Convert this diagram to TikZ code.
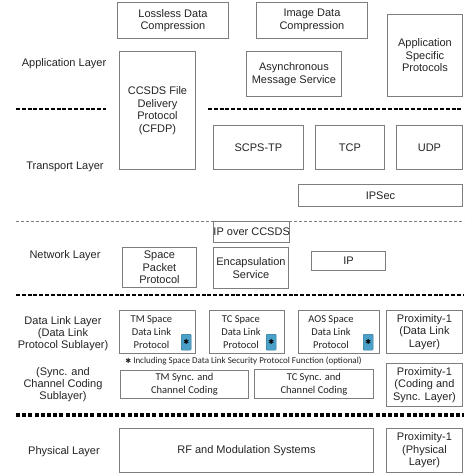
\documentclass[tikz,border=0pt]{standalone}
\usepackage{fontspec}
\setmainfont{Liberation Sans}
\newfontfamily\calfont{Carlito}
\newfontfamily\symfont{DejaVu Sans}
\definecolor{boxgray}{RGB}{125,125,125}
\definecolor{starblue}{RGB}{74,160,200}
\definecolor{txtgray}{RGB}{35,35,35}
\newcommand{\secstar}{{\symfont ✱}}

\begin{document}
\begin{tikzpicture}[x=1pt,y=-1pt,
  box/.style={draw=boxgray, line width=0.9pt, anchor=north west, align=center, inner sep=0pt, text=txtgray, font=\fontsize{11}{12.5}\selectfont},
  dlbox/.style={draw=boxgray, line width=0.9pt, anchor=north west, inner sep=0pt},
  dltext/.style={align=center, text=txtgray, font=\calfont\fontsize{10.5}{13}\selectfont},
  starbox/.style={draw=starblue!70!black, fill=starblue, rounded corners=1pt, anchor=north west, minimum width=10, minimum height=16, inner sep=0pt, font=\fontsize{7}{7}\selectfont},
  layer/.style={align=center, text=txtgray, font=\fontsize{11}{12}\selectfont},
  sepline/.style={line width=1.6pt, dash pattern=on 4pt off 1.8pt},
  thinsep/.style={boxgray, line width=0.8pt, dash pattern=on 3pt off 2pt},
  heavysep/.style={line width=3.6pt, dash pattern=on 4pt off 2.2pt}]

\useasboundingbox (0,0) rectangle (474,474);

% layer names
\node[layer] (applayer) at (64,64) {Application Layer};
\node[layer] (translayer) at (65,167) {Transport Layer};
\node[layer] (netlayer) at (65,256) {Network Layer};
\node[layer] (dllayer) at (63,334) {Data Link Layer\\(Data Link\\Protocol Sublayer)};
\node[layer] (synclayer) at (63,385) {(Sync. and\\Channel Coding\\Sublayer)};
\node[layer] (phylayer) at (64,452) {Physical Layer};

% application
\node[box, minimum width=111, minimum height=36] (lossless) at (117,2) {Lossless Data\\Compression};
\node[box, minimum width=111, minimum height=36] (imagedc) at (256,2) {Image Data\\Compression};
\node[box, minimum width=76, minimum height=118] (cfdp) at (119,51) {CCSDS File\\Delivery\\Protocol\\(CFDP)};
\node[box, minimum width=95, minimum height=45] (ams) at (246,51) {Asynchronous\\Message Service};
\node[box, minimum width=75, minimum height=82] (asp) at (387,14) {Application\\Specific\\Protocols};
\draw[sepline] (16,109) -- (106,109);
\draw[sepline] (208,109) -- (462,109);

% transport
\node[box, minimum width=90, minimum height=44] (scps) at (213,125) {SCPS-TP};
\node[box, minimum width=69, minimum height=44] (tcp) at (315,125) {TCP};
\node[box, minimum width=66, minimum height=44] (udp) at (396,125) {UDP};
\node[box, minimum width=164, minimum height=22] (ipsec) at (298,184) {IPSec};
\draw[thinsep] (16,221) -- (213,221);
\draw[thinsep] (289,221) -- (464,221);

% network
\node[box, minimum width=75, minimum height=21] (ipccsds) at (213,221) {IP over CCSDS};
\node[box, minimum width=75, minimum height=41] (encap) at (213,247) {Encapsulation\\Service};
\node[box, minimum width=74, minimum height=40] (spp) at (122,247) {Space\\Packet\\Protocol};
\node[box, minimum width=74, minimum height=19] (ip) at (311,251) {IP};
\draw[sepline] (16,295) -- (464,295);

% data link
\node[dlbox, minimum width=76, minimum height=43] (tmsdl) at (119,310) {};
\node[dltext] at ([xshift=-6]tmsdl.center) {TM Space\\Data Link\\Protocol};
\node[starbox] (tmstar) at (181,334) {\secstar};
\node[dlbox, minimum width=75, minimum height=43] (tcsdl) at (209,310) {};
\node[dltext] at ([xshift=-6]tcsdl.center) {TC Space\\Data Link\\Protocol};
\node[starbox] (tcstar) at (266,334) {\secstar};
\node[dlbox, minimum width=81, minimum height=43] (aossdl) at (298,310) {};
\node[dltext] at ([xshift=-8]aossdl.center) {AOS Space\\Data Link\\Protocol};
\node[starbox] (aosstar) at (363,334) {\secstar};
\node[box, minimum width=76, minimum height=43] (proxdl) at (386,310) {Proximity-1\\(Data Link\\Layer)};
\node[text=txtgray, font=\calfont\fontsize{9}{10}\selectfont] (secnote) at (243.5,361) {{\fontsize{7}{7}\selectfont\secstar} Including Space Data Link Security Protocol Function (optional)};

% sync and coding
\node[box, font=\calfont\fontsize{10.5}{13}\selectfont, minimum width=128, minimum height=28] (tmsync) at (120,370) {TM Sync. and\\Channel Coding};
\node[box, font=\calfont\fontsize{10.5}{13}\selectfont, minimum width=119, minimum height=29] (tcsync) at (254,369) {TC Sync. and\\Channel Coding};
\node[box, minimum width=76, minimum height=43] (proxcs) at (386,363) {Proximity-1\\(Coding and\\Sync. Layer)};
\draw[heavysep] (16,415) -- (464,415);

% physical
\node[box, minimum width=254, minimum height=44] (rfmod) at (119,428) {RF and Modulation Systems};
\node[box, minimum width=76, minimum height=44] (proxphy) at (386,428) {Proximity-1\\(Physical\\Layer)};
\end{tikzpicture}
\end{document}
